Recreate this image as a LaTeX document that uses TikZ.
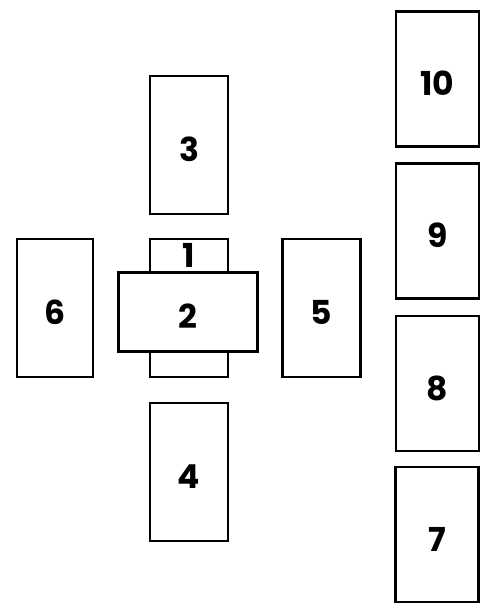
\documentclass[tikz,border=0pt]{standalone}
\usepackage{fontspec}
\setmainfont{Poppins}
\usetikzlibrary{calc}
\begin{document}
\begin{tikzpicture}[x=0.5pt,y=-0.5pt,
  num/.style={inner sep=0pt, font=\bfseries\fontsize{16.5}{16.5}\selectfont},
  card/.style={draw=black, line width=1.1pt, fill=white, inner sep=0pt, label={[num, yshift=-2.3pt]center:#1}},
  tall/.style={card=#1, minimum width=39pt, minimum height=69pt},
  side/.style={card=#1, minimum width=41.5pt, minimum height=67.5pt}]
\useasboundingbox (0,0) rectangle (500,613);
\node[tall={}] (c1) at (189,308) {};
\node[num] (t1) at ($(c1.north)+(0,18)$) {1};
\node[card=2, minimum width=69.5pt, minimum height=39.5pt] (c2) at (188,312) {};
\node[tall=3] (c3) at (189,145) {};
\node[tall=4] (c4) at (189,472) {};
\node[tall=5] (c5) at (321.5,308) {};
\node[tall=6, minimum width=38pt] (c6) at (55,308) {};
\node[side=10] (c10) at (437.5,79) {};
\node[side=9] (c9) at (437.5,231) {};
\node[side=8] (c8) at (437.5,383.5) {};
\node[side=7] (c7) at (437,534.5) {};
\end{tikzpicture}
\end{document}
